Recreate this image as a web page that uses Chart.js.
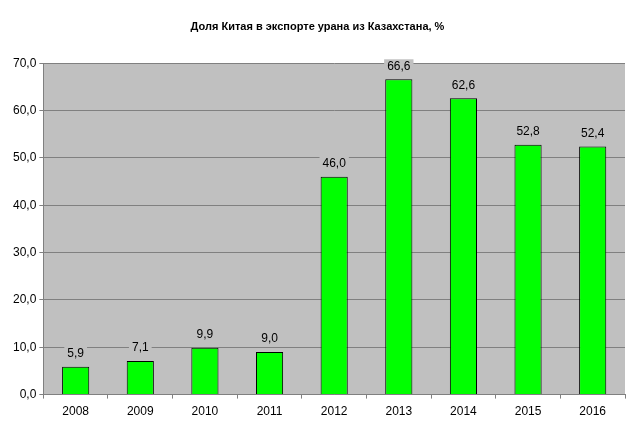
<!DOCTYPE html>
<html><head><meta charset="utf-8">
<script src="https://cdn.jsdelivr.net/npm/chart.js@4/dist/chart.umd.min.js"></script>
<style>body{margin:0;background:#fff}#wrap{width:640px;height:437px}</style>
</head><body><div id="wrap"><canvas id="c"></canvas></div>
<script>
const years = ["2008","2009","2010","2011","2012","2013","2014","2015","2016"];
const shares = [5.9, 7.1, 9.9, 9.0, 46.0, 66.6, 62.6, 52.8, 52.4];
const fmt = v => v.toFixed(1).replace(".", ",");

// серый фон области графика
const plotBg = {
    id: "plotBg",
    beforeDraw(chart) {
        const { ctx, chartArea: a } = chart;
        ctx.save();
        ctx.fillStyle = "#c0c0c0";
        ctx.fillRect(a.left, a.top, a.right - a.left, a.bottom - a.top);
        ctx.restore();
    }
};

// подписи значений над столбцами
const valueLabels = {
    id: "valueLabels",
    afterDatasetsDraw(chart) {
        const ctx = chart.ctx;
        ctx.save();
        ctx.font = "12px 'Liberation Sans', Arial";
        ctx.textAlign = "center";
        ctx.textBaseline = "middle";
        chart.getDatasetMeta(0).data.forEach((bar, i) => {
            const t = fmt(shares[i]);
            const w = ctx.measureText(t).width + 6;
            const y = bar.y - 13;
            ctx.fillStyle = "#c0c0c0";
            ctx.fillRect(bar.x - w / 2, y - 7, w, 14);
            ctx.fillStyle = "#000";
            ctx.fillText(t, bar.x, y);
        });
        ctx.restore();
    }
};

new Chart(document.getElementById("c"), {
    type: "bar",
    data: { labels: years, datasets: [{ data: shares, backgroundColor: "#00ff00", borderColor: "#000", borderWidth: 1, barPercentage: 0.42, categoryPercentage: 1 }] },
    options: {
        responsive: true, maintainAspectRatio: false, animation: false,
        layout: { padding: { top: 8, right: 15, left: 10, bottom: 12 } },
        plugins: {
            legend: { display: false }, tooltip: { enabled: false },
            title: { display: true, text: "Доля Китая в экспорте урана из Казахстана, %", color: "#000", font: { family: "'Liberation Sans', Arial", size: 11, weight: "bold" }, padding: { top: 12, bottom: 30 } }
        },
        scales: {
            y: { min: 0, max: 70, ticks: { stepSize: 10, color: "#000", font: { family: "'Liberation Sans', Arial", size: 12 }, callback: v => fmt(v) },
                 grid: { color: "#808080", lineWidth: 1, tickLength: 4 }, border: { color: "#808080" } },
            x: { ticks: { color: "#000", font: { family: "'Liberation Sans', Arial", size: 12 }, padding: 6 },
                 grid: { display: true, drawOnChartArea: false, color: "#808080", offset: true, tickLength: 4 }, border: { color: "#808080" } }
        }
    },
    plugins: [plotBg, valueLabels]
});
</script></body></html>
